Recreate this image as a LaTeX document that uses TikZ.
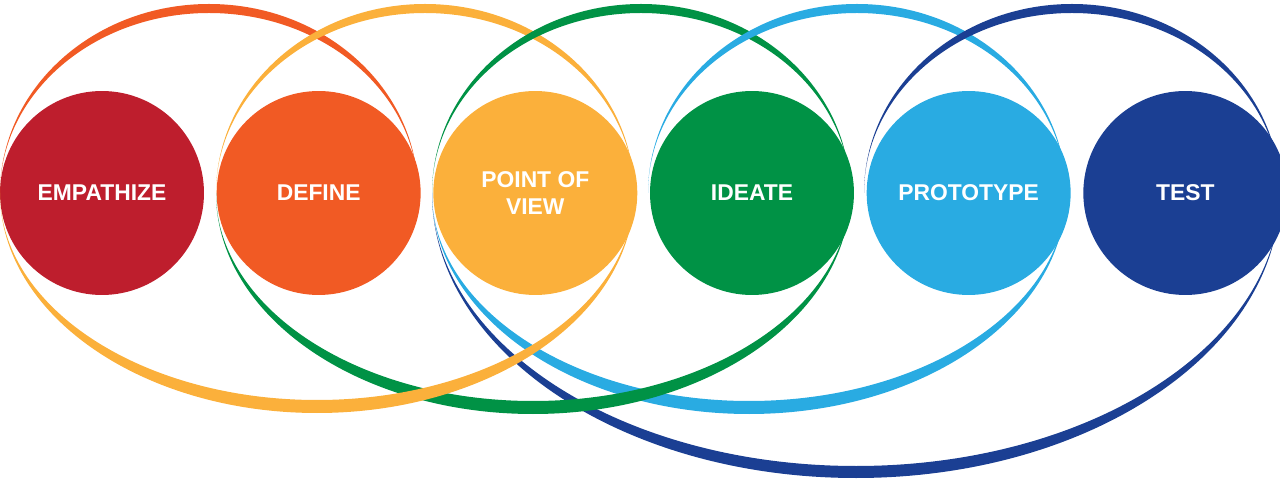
\documentclass[tikz,border=0pt]{standalone}
\usepackage{fontspec}
\setmainfont{Liberation Sans}
\usetikzlibrary{positioning}
\definecolor{cred}{HTML}{BE1E2D}
\definecolor{corange}{HTML}{F15A24}
\definecolor{cyellow}{HTML}{FBB03B}
\definecolor{cgreen}{HTML}{009245}
\definecolor{clblue}{HTML}{29ABE2}
\definecolor{cdblue}{HTML}{1B3F93}
\tikzset{
  % filled phase circle
  phase/.style = {
    circle,
    fill = #1,
    minimum size = 4.08cm,
    inner sep = 0,
    text = white,
    align = center,
    font = \bfseries\fontsize{13}{15}\selectfont
  },
  node distance = 0.24cm
}
% crescent above the row: left x, right x, outer and inner height
\newcommand{\uparc}[5]{
  \fill[#1] (#2,287) arc[start angle=180, end angle=0,
      x radius={(#3-#2)/2}, y radius=#4]
    arc[start angle=0, end angle=180,
      x radius={(#3-#2)/2}, y radius=#5] -- cycle;
}
% crescent below the row
\newcommand{\downarc}[5]{
  \fill[#1] (#2,287) arc[start angle=180, end angle=360,
      x radius={(#3-#2)/2}, y radius=#4]
    arc[start angle=360, end angle=180,
      x radius={(#3-#2)/2}, y radius=#5] -- cycle;
}
\begin{document}
\begin{tikzpicture}[x=0.02cm, y=0.02cm]
  \useasboundingbox (0,0) rectangle (1280,480);

  \node[phase=cred] at (102,287) (empathize) {EMPATHIZE};
  \node[phase=corange, right=of empathize] (define) {DEFINE};
  \node[phase=cyellow, right=of define] (pov) {POINT OF\\VIEW};
  \node[phase=cgreen, right=of pov] (ideate) {IDEATE};
  \node[phase=clblue, right=of ideate] (prototype) {PROTOTYPE};
  \node[phase=cdblue, right=of prototype] (test) {TEST};

  \downarc{cdblue}{432}{1280}{285}{273}
  \downarc{clblue}{432}{1066}{221}{208}
  \downarc{cgreen}{216}{850}{221}{208}
  \downarc{cyellow}{0}{634}{220}{207}

  \uparc{corange}{0}{418}{189}{180}
  \uparc{cyellow}{216}{634}{189}{180}
  \uparc{cgreen}{432}{850}{189}{180}
  \uparc{clblue}{648}{1066}{189}{180}
  \uparc{cdblue}{864}{1280}{189}{180}
\end{tikzpicture}
\end{document}
